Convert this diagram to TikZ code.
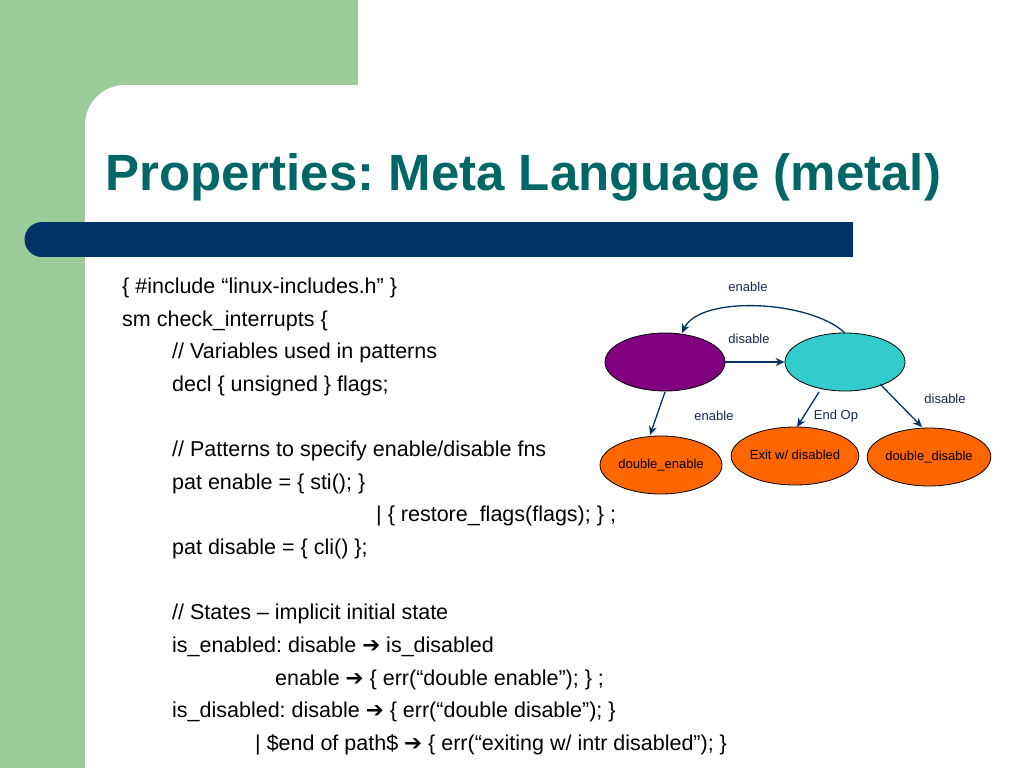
\documentclass[tikz,border=0pt]{standalone}
\usepackage{fontspec}
\setmainfont{Liberation Sans}
\newfontfamily\djv{DejaVu Sans}
\usetikzlibrary{shapes.geometric,arrows.meta}
\definecolor{bggreen}{RGB}{155,204,153}
\definecolor{barblue}{RGB}{0,51,102}
\definecolor{ttl}{RGB}{0,102,102}
\definecolor{purp}{RGB}{128,0,128}
\definecolor{cyn}{RGB}{51,204,204}
\definecolor{orng}{RGB}{255,102,0}
\definecolor{lbl}{RGB}{20,40,80}
\frenchspacing
\begin{document}
\begin{tikzpicture}[x=1pt,y=-1pt,
  st/.style={ellipse,draw=black,line width=0.8pt,minimum width=120pt,minimum height=58pt,inner sep=0pt,font=\fontsize{13}{15}\selectfont},
  lab/.style={font=\fontsize{13}{15}\selectfont,text=lbl},
  arr/.style={draw=barblue,line width=1.3pt,-{Stealth[length=9pt,width=8pt]}},
  ln/.style={anchor=base west,font=\fontsize{21.5}{24}\selectfont,inner sep=0pt}]
\useasboundingbox (0,0) rectangle (1024,768);
\fill[white] (0,0) rectangle (1024,768);
\fill[bggreen] (0,0) rectangle (358,768);
\fill[white] (85,768) -- (85,125) arc[start angle=180,end angle=270,radius=40] -- (358,85) -- (358,768) -- cycle;
\fill[barblue] (42,222) rectangle (853,257);
\fill[barblue] (42,239.5) circle[radius=17.5];
\node[anchor=base west,inner sep=0pt,text=ttl,font=\fontsize{51}{55}\bfseries] (title) at (105,190) {Properties: Meta Language (metal)};
\node[ln] (l1) at (122,293) {\{ \#include “linux-includes.h” \}};
\node[ln] (l2) at (122,326) {sm check\_interrupts \{};
\node[ln] (l3) at (172,358) {// Variables used in patterns};
\node[ln] (l4) at (172,391) {decl \{ unsigned \} flags;};
\node[ln] (l5) at (172,456) {// Patterns to specify enable/disable fns};
\node[ln] (l6) at (172,489) {pat enable = \{ sti(); \}};
\node[ln] (l7) at (376,521) {| \{ restore\_flags(flags); \} ;};
\node[ln] (l8) at (172,554) {pat disable = \{ cli() \};};
\node[ln] (l9) at (172,619) {// States – implicit initial state};
\node[ln] (l10) at (172,652) {is\_enabled: disable {\djv\bfseries ➔} is\_disabled};
\node[ln] (l11) at (275,685) {enable {\djv ➔} \{ err(“double enable”); \} ;};
\node[ln] (l12) at (172,717) {is\_disabled: disable {\djv ➔} \{ err(“double disable”); \}};
\node[ln] (l13) at (255,750) {| \$end of path\$ {\djv ➔} \{ err(“exiting w/ intr disabled”); \}};
\node[st,fill=purp] (en) at (665,362) {};
\node[st,fill=cyn] (dis) at (845,362) {};
\node[st,fill=orng,minimum width=122pt] (de) at (661,465) {\raisebox{-4pt}{double\_enable}};
\node[st,fill=orng,minimum width=118pt] (ex) at (795,456) {\raisebox{3pt}{Exit w/ disabled}};
\node[st,fill=orng] (dd) at (929,457) {double\_disable};
\draw[arr] (en) -- (dis);
\draw[arr] (845,333) .. controls (810,300) and (700,295) .. (682,333);
\draw[arr] (665,392) -- (650,435);
\draw[arr] (819,392) -- (797,427);
\draw[arr] (880,384) -- (922,427);
\node[lab] (t1) at (748,287) {enable};
\node[lab] (t2) at (749,339) {disable};
\node[lab] (t3) at (714,416) {enable};
\node[lab] (t4) at (836,416) {End Op};
\node[lab] (t5) at (945,399) {disable};
\end{tikzpicture}
\end{document}
